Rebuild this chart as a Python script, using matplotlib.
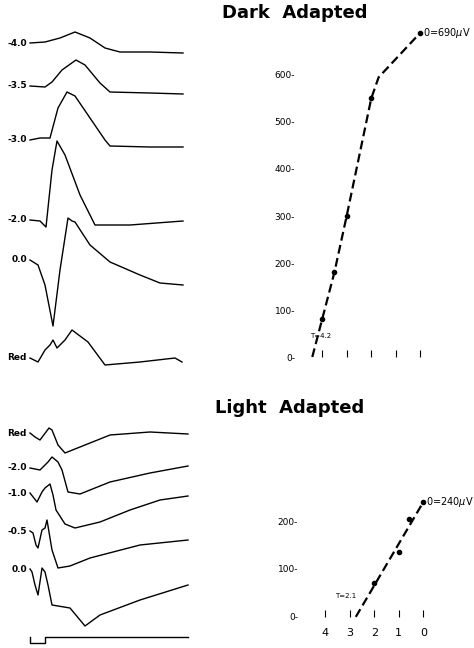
import numpy as np
import matplotlib.pyplot as plt

# ERG traces (x, y in figure pixels of the left panel)
dark_labels = ['-4.0', '-3.5', '-3.0', '-2.0', '0.0', 'Red']
dark_traces = [
    ([30, 45, 60, 75, 90, 105, 120, 150, 183], [43, 42, 38, 32, 38, 48, 52, 52, 53]),
    ([30, 45, 52, 62, 76, 85, 100, 110, 150, 183], [86, 87, 82, 70, 60, 65, 83, 92, 93, 94]),
    ([30, 40, 50, 58, 67, 75, 90, 105, 110, 150, 183], [140, 138, 138, 108, 92, 96, 118, 140, 146, 147, 147]),
    ([30, 40, 46, 52, 57, 65, 80, 95, 130, 183], [220, 221, 227, 170, 141, 155, 195, 225, 225, 221]),
    ([30, 38, 45, 53, 60, 68, 72, 75, 90, 110, 140, 160, 183], [260, 265, 285, 326, 270, 218, 221, 222, 245, 262, 275, 283, 285]),
    ([30, 38, 45, 50, 53, 57, 65, 72, 88, 105, 140, 175, 182], [358, 362, 350, 345, 340, 348, 340, 330, 342, 365, 362, 358, 362]),
]
light_labels = ['Red', '-2.0', '-1.0', '-0.5', '0.0']
light_traces = [
    ([30, 35, 40, 49, 52, 58, 65, 80, 110, 150, 188], [433, 437, 440, 428, 430, 445, 453, 447, 435, 432, 434]),
    ([30, 40, 48, 52, 58, 62, 68, 80, 110, 150, 188], [468, 470, 462, 457, 462, 470, 492, 494, 482, 473, 466]),
    ([30, 37, 42, 45, 50, 53, 56, 65, 75, 100, 130, 160, 188], [493, 502, 492, 488, 484, 495, 510, 524, 528, 522, 510, 500, 496]),
    ([30, 33, 36, 38, 42, 45, 47, 52, 58, 70, 90, 140, 188], [531, 533, 545, 548, 530, 528, 520, 550, 568, 566, 558, 545, 540]),
    ([30, 32, 35, 38, 41, 42, 45, 48, 52, 70, 85, 100, 140, 188], [569, 572, 585, 595, 575, 568, 572, 585, 605, 608, 626, 615, 600, 585]),
]
stim_x = [30, 30, 45, 45, 188]
stim_y = [637, 643, 643, 637, 637]

# intensity-response curves (log units, microvolts)
dark_pts_x = [4.0, 3.5, 3.0, 2.0, 0.0]
dark_pts_y = [80, 180, 300, 550, 690]
dark_fit_x = [4.4, 4.0, 3.5, 3.0, 2.0, 1.7, 0.0]
dark_fit_y = [0, 80, 180, 300, 550, 595, 690]
light_pts_x = [2.0, 1.0, 0.6, 0.0]
light_pts_y = [70, 135, 205, 240]
light_fit_x = [2.75, 0.0]
light_fit_y = [0, 240]

fig = plt.figure(figsize=(4.74, 6.48), dpi=100)
ax = fig.add_axes([0, 0, 1, 1])
ax.set_xlim(0, 474)
ax.set_ylim(648, 0)
ax.axis('off')

for lab, (xs, ys) in zip(dark_labels, dark_traces):
    ax.plot(xs, ys, color='black', lw=1)
    ax.text(27, ys[0], lab, ha='right', va='center', fontsize=6.5, fontweight='bold')
for lab, (xs, ys) in zip(light_labels, light_traces):
    ax.plot(xs, ys, color='black', lw=1)
    ax.text(27, ys[0], lab, ha='right', va='center', fontsize=6.5, fontweight='bold')
ax.plot(stim_x, stim_y, color='black', lw=1)

ax.text(295, 13, 'Dark  Adapted', ha='center', va='center', fontsize=13, fontweight='bold')
ax.text(290, 408, 'Light  Adapted', ha='center', va='center', fontsize=13, fontweight='bold')


def resp_axes(rect, ylim, yticks, pts_x, pts_y, fit_x, fit_y, label0, tlabel, tpos, xlabels):
    a = fig.add_axes(rect)
    a.set_xlim(4.9, -0.8)
    a.set_ylim(*ylim)
    for s in a.spines.values():
        s.set_visible(False)
    a.set_facecolor('none')
    a.plot(fit_x, fit_y, 'k--', lw=1.6, dashes=(4, 2))
    a.plot(pts_x, pts_y, 'ko', ms=3)
    a.set_yticks(yticks)
    a.set_yticklabels([f'{v}-' for v in yticks], fontsize=6.5)
    a.tick_params(axis='y', length=0)
    a.set_xticks([4, 3, 2, 1, 0])
    a.tick_params(axis='x', direction='in', length=5, pad=-2, labelsize=8)
    a.spines['bottom'].set_position(('data', 0))
    a.set_xticklabels(['4', '3', '2', '1', '0'] if xlabels else [])
    a.text(pts_x[-1] - 0.1, pts_y[-1], label0, fontsize=7, va='center')
    a.text(tpos[0], tpos[1], tlabel, fontsize=5)
    return a


resp_axes([300 / 474, 1 - 365 / 648, 140 / 474, 345 / 648], (-17, 717),
          [0, 100, 200, 300, 400, 500, 600], dark_pts_x, dark_pts_y,
          dark_fit_x, dark_fit_y, r'0=690$\mu$V', 'T=4.2', (4.5, 40), False)
a2 = resp_axes([303 / 474, 1 - 625 / 648, 140 / 474, 135 / 648], (-17, 265),
               [0, 100, 200], light_pts_x, light_pts_y,
               light_fit_x, light_fit_y, r'0=240$\mu$V', 'T=2.1', (3.6, 40), True)
a2.tick_params(axis='x', pad=8)

fig.savefig('out.png', dpi=100)
